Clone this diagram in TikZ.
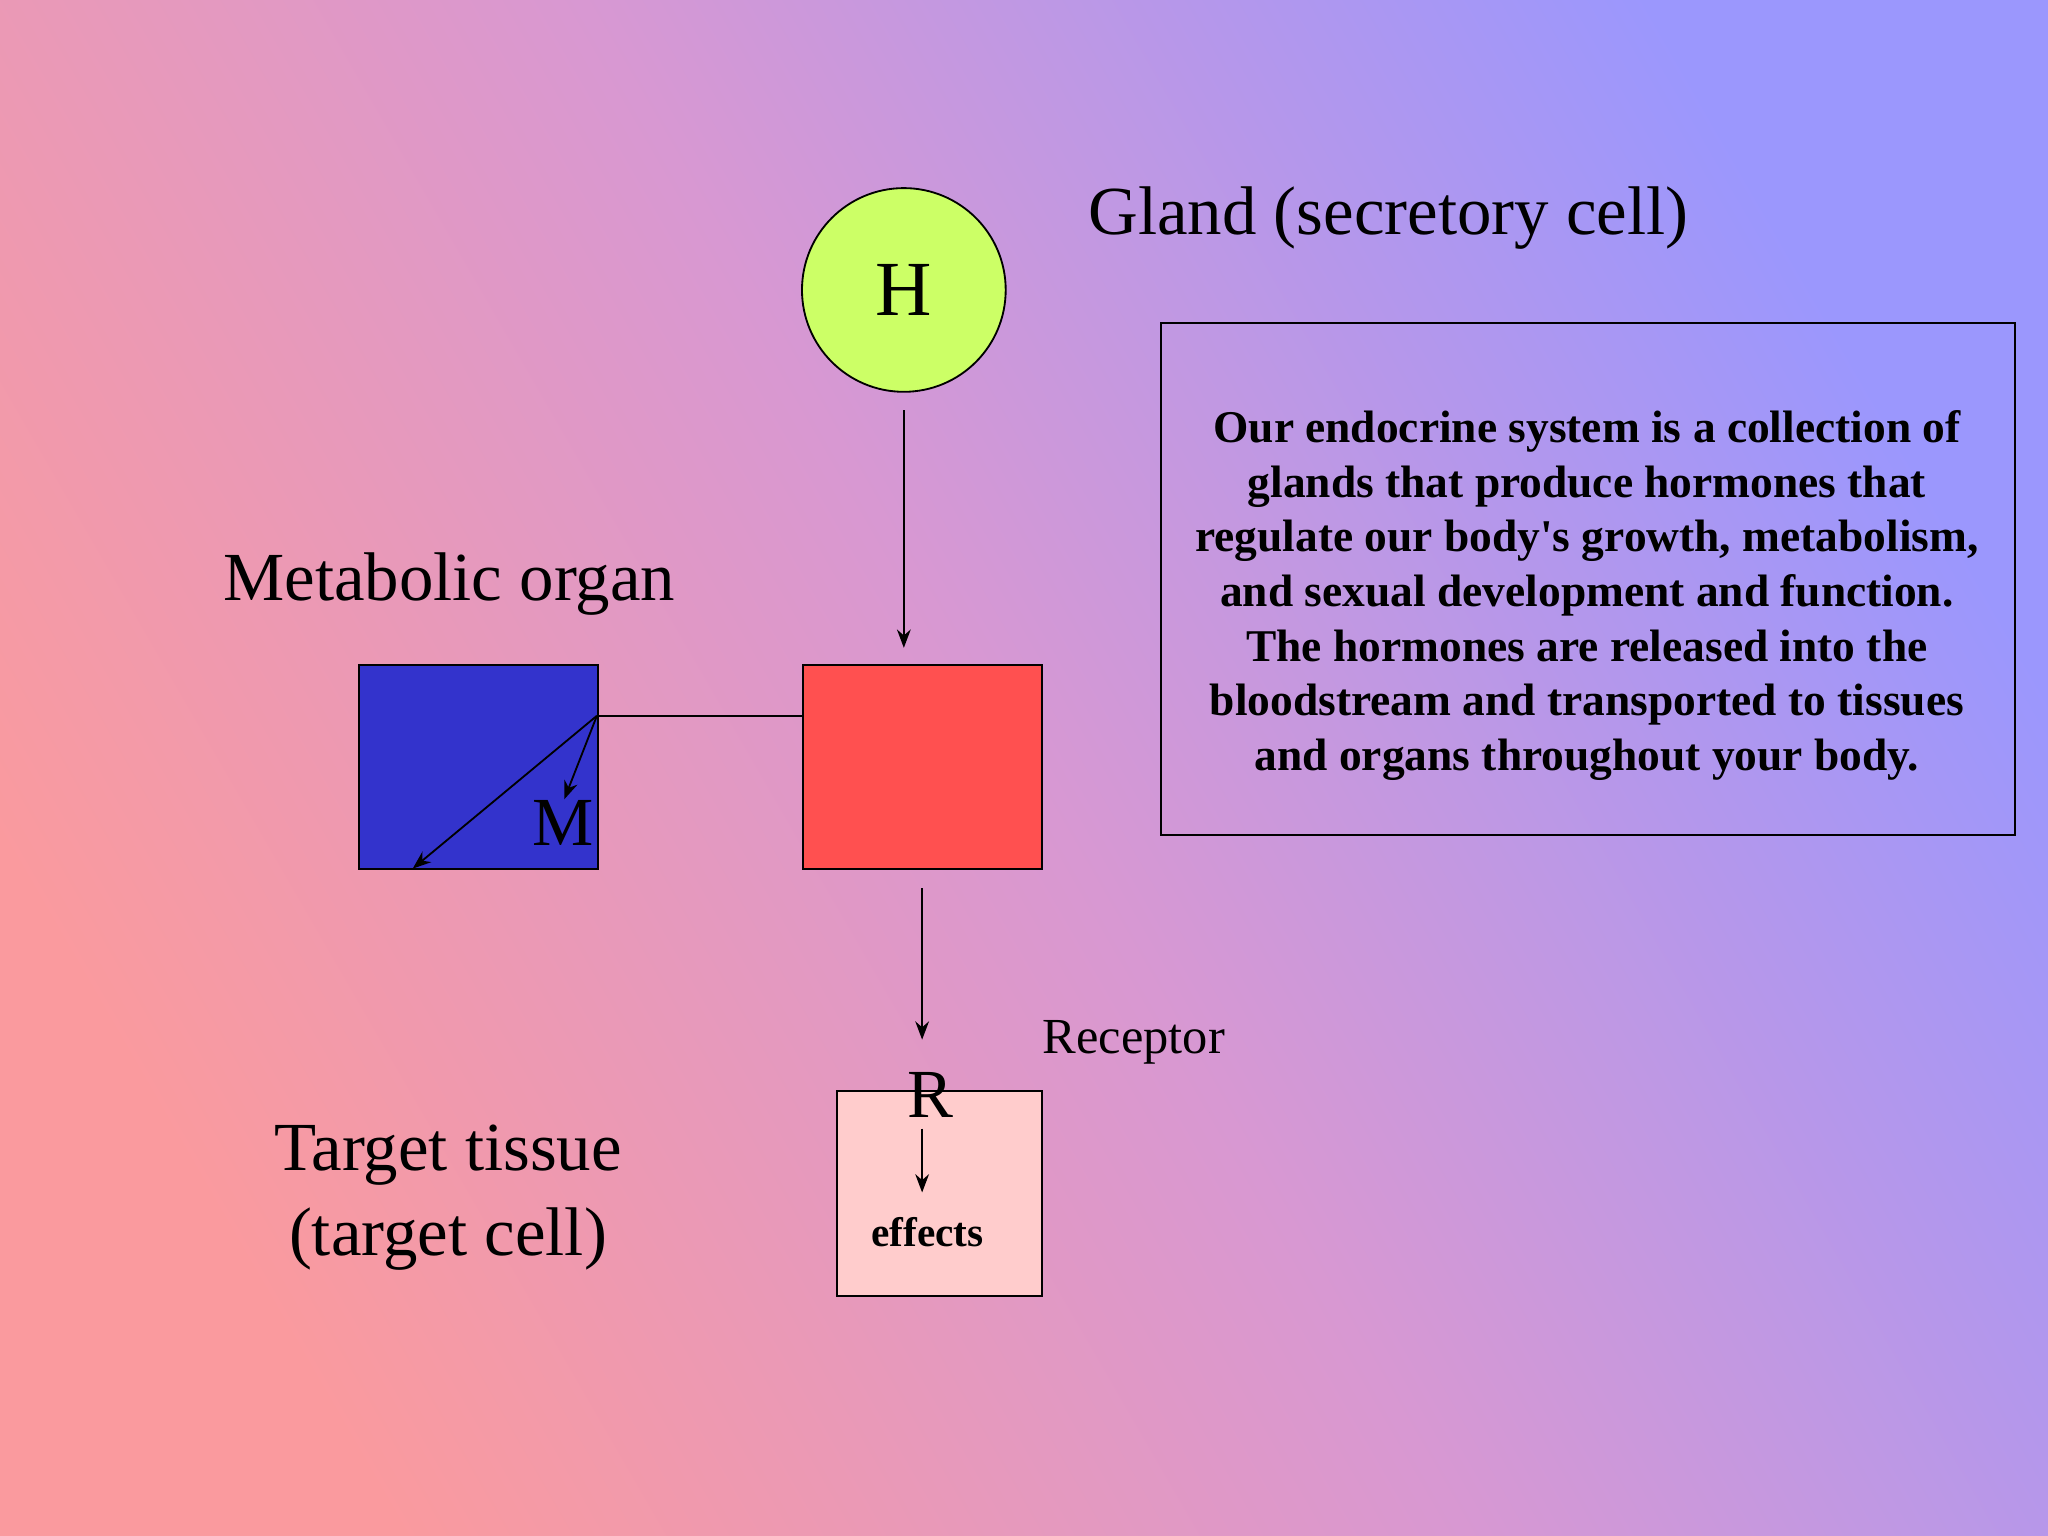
\documentclass[tikz,border=0pt]{standalone}
\usepackage{fontspec}
\setmainfont{Liberation Serif}
\definecolor{bgA}{HTML}{FA9A9E}
\definecolor{bgM}{HTML}{D898D2}
\definecolor{bgB}{HTML}{9B97FD}
\definecolor{hfill}{HTML}{CCFF66}
\definecolor{rfill}{HTML}{FF5050}
\definecolor{bfill}{HTML}{3333CC}
\definecolor{pfill}{HTML}{FFCCCC}
\usetikzlibrary{arrows.meta}
\tikzset{
  box/.style={draw=black, line width=0.8pt, anchor=south west, inner sep=0pt},
  arr/.style={-{Stealth[length=8pt,width=6pt]}, line width=0.8pt},
  lbl/.style={font=\fontsize{30}{36}\selectfont, align=center}
}
\begin{document}
\begin{tikzpicture}[x=0.02cm,y=-0.02cm]
\useasboundingbox (0,0) rectangle (1568,1176);
\shade[left color=bgB, right color=bgA, middle color=bgM, shading angle=-60] (0,0) rectangle (1568,1176);
\node[circle, draw, line width=0.8pt, fill=hfill, minimum size=3.12cm, inner sep=0pt, font=\fontsize{34}{40}\selectfont] (h) at (692,222) {H};
\node[box, fill=rfill, minimum width=3.66cm, minimum height=3.12cm] (red) at (614,666) {};
\node[box, fill=bfill, minimum width=3.66cm, minimum height=3.12cm] (blue) at (274,666) {};
\node[box, fill=pfill, minimum width=3.14cm, minimum height=3.14cm] (pink) at (640,993) {};
\node[box, minimum width=13.08cm, minimum height=7.84cm] (txt) at (888,640) {};
\node[font=\bfseries\fontsize{19.8}{23.8}\selectfont, align=center] (para) at (1215,456) {Our endocrine system is a collection of\\glands that produce hormones that\\regulate our body\textquotesingle s growth, metabolism,\\and sexual development and function.\\The hormones are released into the\\bloodstream and transported to tissues\\and organs throughout your body.};
\node[lbl] (gl) at (1063,167) {Gland (secretory cell)};
\node[lbl] (mo) at (344,447) {Metabolic organ};
\node[lbl, font=\fontsize{30}{37}\selectfont] (tt) at (343,917) {Target tissue\\(target cell)};
\node[font=\fontsize{30}{36}\selectfont] (m) at (431,630) {M};
\node[font=\fontsize{30}{36}\selectfont] (r) at (712,838) {R};
\node[font=\fontsize{22}{26}\selectfont] (rec) at (868,798) {Receptor};
\node[font=\bfseries\fontsize{18}{22}\selectfont] (eff) at (710,943) {effects};
\coordinate (c1) at (692,314); \coordinate (c2) at (692,496);
\coordinate (c3) at (706,680); \coordinate (c4) at (706,796);
\coordinate (c5) at (706,864); \coordinate (c6) at (706,913);
\coordinate (bo) at (457,548); \coordinate (ro) at (614,548);
\coordinate (e1) at (316,665); \coordinate (e2) at (432,612);
\draw[arr] (c1) -- (c2);
\draw[arr] (c3) -- (c4);
\draw[arr] (c5) -- (c6);
\draw[line width=0.8pt] (bo) -- (ro);
\draw[arr] (bo) -- (e1);
\draw[arr] (bo) -- (e2);
\end{tikzpicture}
\end{document}
